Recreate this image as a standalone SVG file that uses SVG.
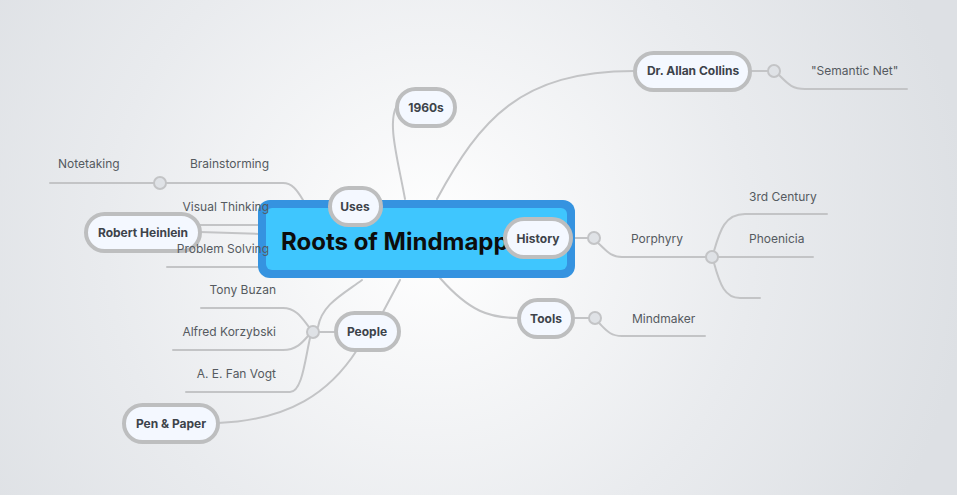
<svg xmlns="http://www.w3.org/2000/svg" width="957" height="495" viewBox="0 0 957 495">
<defs>
<radialGradient id="bg" cx="430" cy="240" r="540" gradientUnits="userSpaceOnUse">
<stop offset="0" stop-color="#ffffff"/>
<stop offset="0.6" stop-color="#e9ebee"/>
<stop offset="1" stop-color="#dde0e4"/>
</radialGradient>
</defs>
<style>
.c{fill:none;stroke:#c3c4c6;stroke-width:2;stroke-linecap:round}
.dot{fill:#dfe2e6;stroke:#c3c4c6;stroke-width:2}
.pill{fill:#f4f8ff;stroke:#bdbebf;stroke-width:4}
.nt{font-family:Inter,"Open Sans",sans-serif;font-size:12px;font-weight:700;fill:#3d434a;text-anchor:middle}
.lb{font-family:Inter,"Open Sans",sans-serif;font-size:12px;fill:#555a60}
.r{text-anchor:end}
</style>
<rect width="957" height="495" fill="url(#bg)"/>
<g id="connectors">
<path class="c" d="M405 199 C398 160 386 120 398 104"/>
<path class="c" d="M437 199 C480 120 520 71 634 71"/>
<path class="c" d="M750 71 H768"/>
<path class="c" d="M779 75 C788 84 792 89 805 89 H907"/>
<path class="c" d="M50 183 H154"/>
<path class="c" d="M166 183 H283 C292 183 297 190 303 200"/>
<path class="c" d="M168 225 H260"/>
<path class="c" d="M200 232 L260 234"/>
<path class="c" d="M167 267 H260"/>
<path class="c" d="M571 238 H588"/>
<path class="c" d="M598 243 C606 250 610 257 622 257 H706"/>
<path class="c" d="M718 257 H813"/>
<path class="c" d="M714 251 C720 230 725 214 745 214 H827"/>
<path class="c" d="M714 263 C720 285 725 298 740 298 H760"/>
<path class="c" d="M440 278 C470 312 490 318 518 318"/>
<path class="c" d="M573 318 H589"/>
<path class="c" d="M599 323 C606 330 610 336 622 336 H705"/>
<path class="c" d="M400 280 L383 312"/>
<path class="c" d="M362 280 C340 296 322 305 318 327"/>
<path class="c" d="M319 332 H335"/>
<path class="c" d="M201 308 H283 C296 308 302 318 309 327"/>
<path class="c" d="M173 350 H283 C296 350 302 343 308 336"/>
<path class="c" d="M186 392 H290 C302 392 305 360 310 338"/>
<path class="c" d="M218 423 C290 420 330 392 357 350"/>
<circle class="dot" cx="774" cy="71" r="6"/>
<circle class="dot" cx="160" cy="183" r="6"/>
<circle class="dot" cx="594" cy="238" r="6"/>
<circle class="dot" cx="712" cy="257" r="6"/>
<circle class="dot" cx="595" cy="318" r="6"/>
<circle class="dot" cx="313" cy="332" r="6"/>
</g>
<g id="root">
<rect x="258" y="200" width="317" height="78" rx="12" fill="#3593e0"/>
<rect x="266" y="208" width="301" height="62" rx="6" fill="#3fc6fe"/>
<text x="281" y="250" font-family="Inter,'Open Sans',sans-serif" font-size="24" font-weight="700" fill="#0d0d0d">Roots of Mindmapp</text>
</g>
<g id="n-1960s"><rect class="pill" x="397" y="89" width="58" height="37" rx="18.5"/><text class="nt" x="426" y="112">1960s</text></g>
<g id="n-collins"><rect class="pill" x="635" y="53" width="115" height="37" rx="18.5"/><text class="nt" x="693" y="75">Dr. Allan Collins</text></g>
<g id="n-uses"><rect class="pill" x="330" y="188" width="51" height="37" rx="18.5"/><text class="nt" x="355" y="211">Uses</text></g>
<g id="n-heinlein"><rect class="pill" x="86" y="214" width="114" height="37" rx="18.5"/><text class="nt" x="143" y="237">Robert Heinlein</text></g>
<g id="n-history"><rect class="pill" x="505" y="219" width="66" height="38" rx="19"/><text class="nt" x="538" y="243">History</text></g>
<g id="n-tools"><rect class="pill" x="519" y="300" width="54" height="37" rx="18.5"/><text class="nt" x="546" y="323">Tools</text></g>
<g id="n-people"><rect class="pill" x="336" y="313" width="63" height="37" rx="18.5"/><text class="nt" x="367" y="336">People</text></g>
<g id="n-pen"><rect class="pill" x="124" y="405" width="94" height="37" rx="18.5"/><text class="nt" x="171" y="428">Pen &amp; Paper</text></g>
<g id="labels">
<text class="lb" x="811" y="75">"Semantic Net"</text>
<text class="lb" x="58" y="168">Notetaking</text>
<text class="lb r" x="269" y="168">Brainstorming</text>
<text class="lb r" x="269" y="211">Visual Thinking</text>
<text class="lb r" x="269" y="253">Problem Solving</text>
<text class="lb" x="631" y="243">Porphyry</text>
<text class="lb" x="749" y="201">3rd Century</text>
<text class="lb" x="749" y="243">Phoenicia</text>
<text class="lb" x="632" y="323">Mindmaker</text>
<text class="lb r" x="276" y="294">Tony Buzan</text>
<text class="lb r" x="276" y="336">Alfred Korzybski</text>
<text class="lb r" x="276" y="378">A. E. Fan Vogt</text>
</g>
</svg>
